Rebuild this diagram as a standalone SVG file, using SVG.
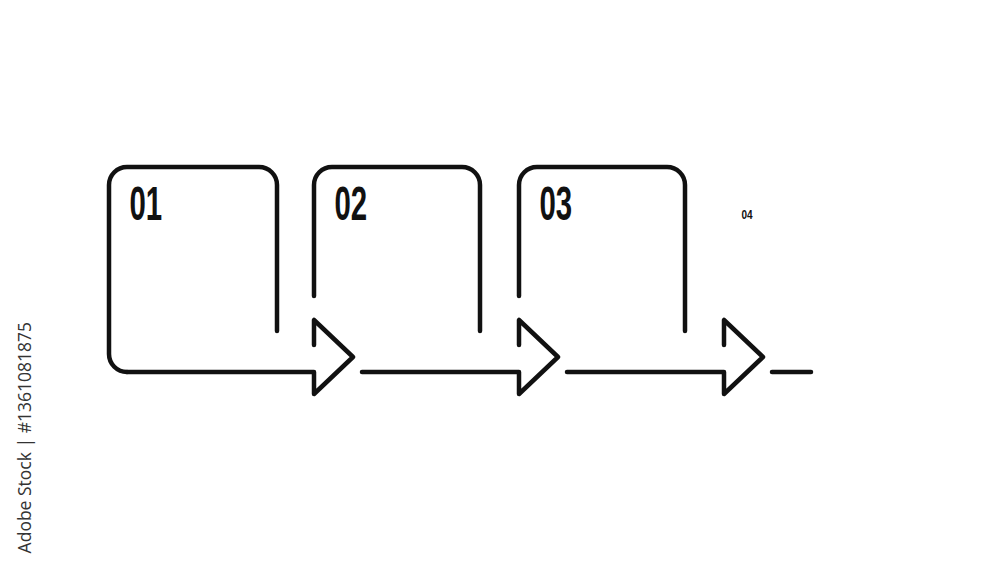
<svg xmlns="http://www.w3.org/2000/svg" width="1000" height="562" viewBox="0 0 1000 562">
  <style>
    .ln { fill: none; stroke: #111; stroke-width: 4.5; stroke-linecap: round; stroke-linejoin: round; }
    .num { font-family: "Liberation Sans", Arial, sans-serif; font-weight: bold; fill: #111; }
    .wm { font-family: "Open Sans", "Liberation Sans", sans-serif; fill: #333; }
  </style>
  <rect width="1000" height="562" fill="#fff"/>
  <g id="node1">
    <path class="ln" d="M277,331 V185 A18,18 0 0 0 259,167 H127 A18,18 0 0 0 109,185 V354 A18,18 0 0 0 127,372"/>
    <text class="num" font-size="49" transform="translate(129.5,220) scale(0.6,1)">01</text>
  </g>
  <g id="node2">
    <path class="ln" d="M314,296 V185 A18,18 0 0 1 332,167 H462 A18,18 0 0 1 480,185 V331"/>
    <text class="num" font-size="49" transform="translate(334.5,220) scale(0.6,1)">02</text>
  </g>
  <g id="node3">
    <path class="ln" d="M519,296 V185 A18,18 0 0 1 537,167 H667 A18,18 0 0 1 685,185 V331"/>
    <text class="num" font-size="49" transform="translate(539.5,220) scale(0.6,1)">03</text>
  </g>
  <g id="node4">
    <text class="num" font-size="12.5" font-weight="normal" transform="translate(741.5,219) scale(0.8,1)">04</text>
  </g>
  <g id="connectors">
    <path class="ln" d="M127,372 H314 V394 L353,357 L314,320 V345"/>
    <path class="ln" d="M362,372 H519 V394 L558,357 L519,320 V345"/>
    <path class="ln" d="M567,372 H724 V394 L763,357 L724,320 V345"/>
    <path class="ln" d="M772,372 H811"/>
  </g>
  <text class="wm" font-size="17.5" text-anchor="end" transform="translate(31,322) rotate(-90)">Adobe Stock | #1361081875</text>
</svg>
